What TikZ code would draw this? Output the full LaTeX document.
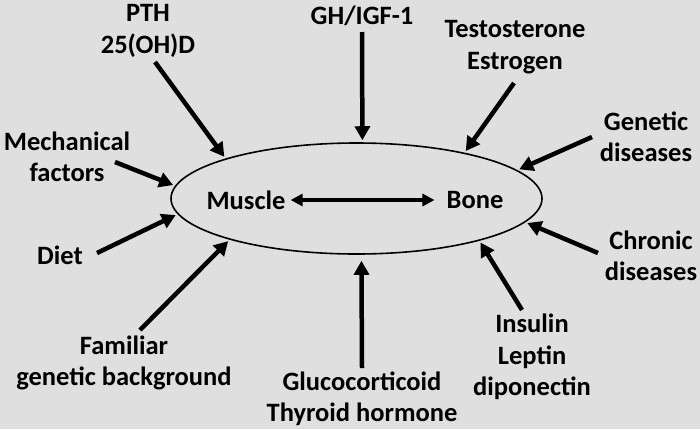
\documentclass[tikz,border=0pt]{standalone}
\usepackage{fontspec}
\setmainfont{Carlito}
\usetikzlibrary{arrows.meta, positioning, shapes.geometric}
\definecolor{mBack}{HTML}{DFDFDF}

\begin{document}
\begin{tikzpicture}[x=1pt, y=-1pt,
      t/.style={font=\fontsize{26.5}{31.5}\selectfont\bfseries, align=center, inner sep=0pt},
      a/.style={-{Triangle[length=14pt, width=15pt]}, line width=4.5pt, shorten >=2pt}]
    \fill[mBack] (0,0) rectangle (700,429);
    \node[ellipse, draw, line width=1.6pt, minimum width=371pt, minimum height=111pt] (mb) at (356.5,198.5) {};
    \node[t] (muscle) at (246,200) {Muscle};
    \node[t] (bone)   at (475,200) {Bone};
    \draw[{Triangle[length=12pt, width=12pt]}-{Triangle[length=12pt, width=12pt]}, line width=3.5pt,
          shorten <=5pt, shorten >=12pt] (muscle) -- (bone);
    % labels round the ellipse
    \node[t] (pth)  at (148,31)  {PTH\\25(OH)D};
    \node[t] (gh)   at (362,16)  {GH/IGF-1};
    \node[t] (tes)  at (515,47)  {Testosterone\\Estrogen};
    \node[t] (gen)  at (646,137) {Genetic\\diseases};
    \node[t] (mech) at (67,157)  {Mechanical\\factors};
    \node[t] (diet) at (60,255)  {Diet};
    \node[t] (fam)  at (124,363) {Familiar\\genetic background};
    \node[t] (glu)  at (362,399) {Glucocorticoid\\Thyroid hormone};
    \node[t] (ins)  at (532,357) {Insulin\\Leptin\\diponectin};
    \node[t] (chr)  at (651,256) {Chronic\\diseases};
    % arrow tails
    \coordinate (pthT)  at (155,62);
    \coordinate (ghT)   at (362,32);
    \coordinate (tesT)  at (514,83);
    \coordinate (genT)  at (592,137);
    \coordinate (mechT) at (115,162);
    \coordinate (dietT) at (97,253);
    \coordinate (famT)  at (140,330);
    \coordinate (gluT)  at (362,368);
    \coordinate (insT)  at (522,310);
    \coordinate (chrT)  at (598,253);
    \foreach \s/\e in {pthT/163, ghT/84, tesT/23, genT/10, mechT/176, dietT/185, famT/198, insT/341, chrT/352}
      \draw[a] (\s) -- (mb.\e);
    \draw[a, shorten >=6pt] (gluT) -- (mb.275);
  \end{tikzpicture}
\end{document}
